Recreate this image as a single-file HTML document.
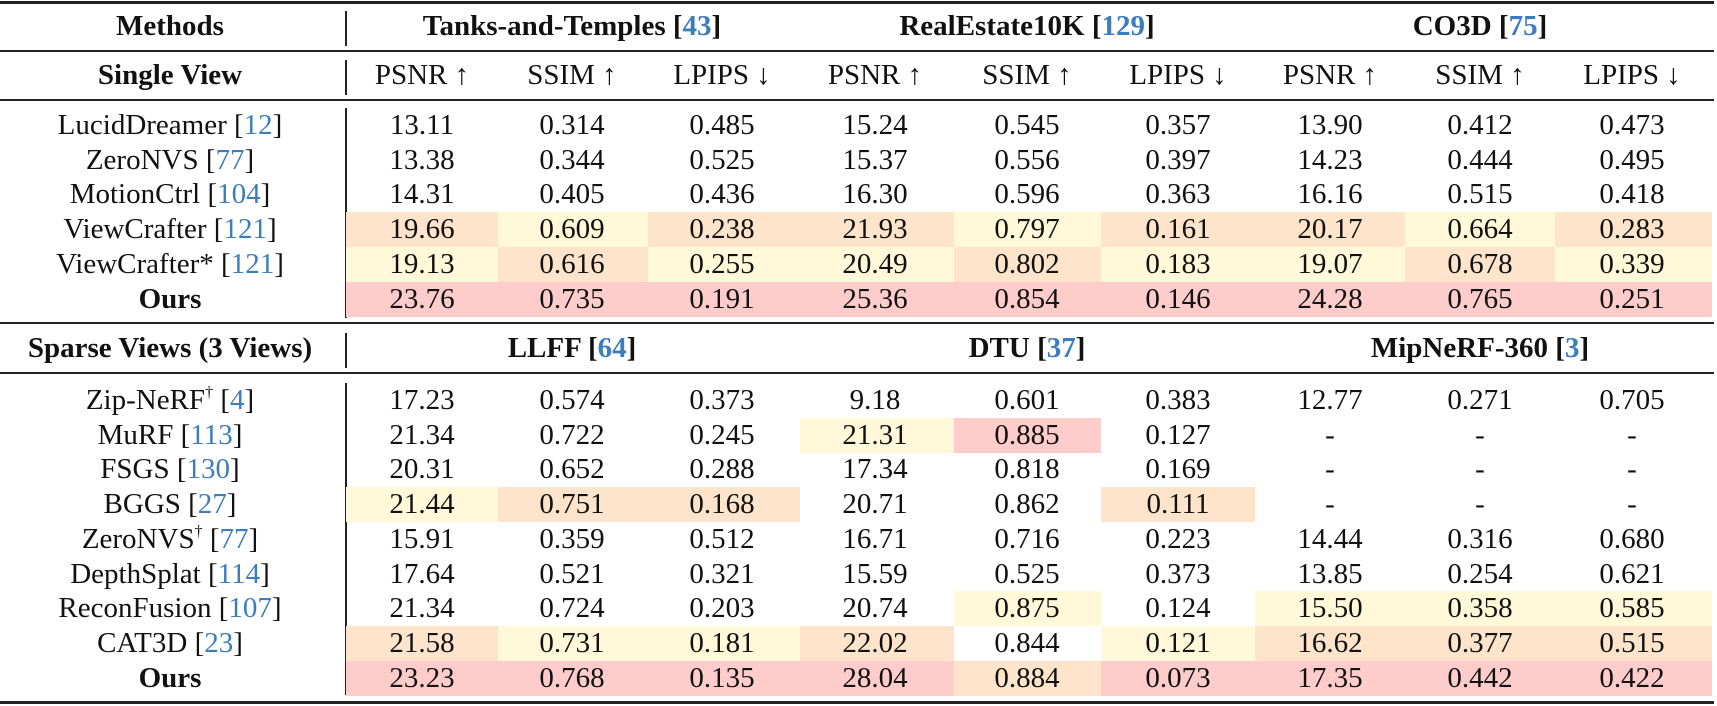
<!DOCTYPE html>
<html><head><meta charset="utf-8">
<style>
html,body{margin:0;padding:0;background:#fff;}
#t{position:relative;width:1717px;height:706px;overflow:hidden;font-family:"Liberation Serif","DejaVu Serif",serif;font-size:29px;color:#111;}
.r{position:absolute;left:0;width:1714px;background:#222;}
.v{position:absolute;left:345px;width:1.5px;background:#222;}
.c{position:absolute;height:35px;line-height:35px;text-align:center;white-space:nowrap;}
.b{font-weight:bold;}
.l{color:#3d7dbd;}
.bg{position:absolute;height:35px;}
.P{background:#ffcccc;}
.O{background:#ffe4cc;}
.Y{background:#fff8d9;}
sup{font-size:16px;line-height:0;vertical-align:12px;}
</style></head><body>
<div id="t">
<div class="r" style="top:1px;height:2.5px"></div>
<div class="r" style="top:50px;height:2px"></div>
<div class="r" style="top:99px;height:2px"></div>
<div class="r" style="top:322px;height:2px"></div>
<div class="r" style="top:372px;height:2px"></div>
<div class="r" style="top:701px;height:2.5px"></div>
<div class="v" style="top:11px;height:35px"></div>
<div class="v" style="top:60px;height:35px"></div>
<div class="v" style="top:108px;height:210px"></div>
<div class="v" style="top:333px;height:35px"></div>
<div class="v" style="top:383px;height:312px"></div>
</div>
<script>
var X=[346,498,648,800,954,1101,1255,1405,1555,1712];
var C=[422,572,722,875,1027,1178,1330,1480,1632];
var tb=document.getElementById('t');
function cell(x,y,html,cls){var d=document.createElement('div');d.className='c '+(cls||'');d.style.left=(x-200)+'px';d.style.width='400px';d.style.top=y+'px';d.innerHTML=html;tb.appendChild(d);}
function bg(i,y,cls){var d=document.createElement('div');d.className='bg '+cls;d.style.left=X[i]+'px';d.style.width=(X[i+1]-X[i])+'px';d.style.top=y+'px';tb.appendChild(d);}
function L(n){return '[<span class="l">'+n+'</span>]';}
cell(170,9,'Methods','b');
cell(572,9,'Tanks-and-Temples '+L(43),'b');
cell(1027,9,'RealEstate10K '+L(129),'b');
cell(1480,9,'CO3D '+L(75),'b');
cell(170,58,'Single View','b');
var H=['PSNR ↑','SSIM ↑','LPIPS ↓'];
for(var i=0;i<9;i++)cell(C[i],58,H[i%3]);
var topData=[
['LucidDreamer '+L(12),['13.11','0.314','0.485','15.24','0.545','0.357','13.90','0.412','0.473'],'.........'],
['ZeroNVS '+L(77),['13.38','0.344','0.525','15.37','0.556','0.397','14.23','0.444','0.495'],'.........'],
['MotionCtrl '+L(104),['14.31','0.405','0.436','16.30','0.596','0.363','16.16','0.515','0.418'],'.........'],
['ViewCrafter '+L(121),['19.66','0.609','0.238','21.93','0.797','0.161','20.17','0.664','0.283'],'OYOOYOOYO'],
['ViewCrafter* '+L(121),['19.13','0.616','0.255','20.49','0.802','0.183','19.07','0.678','0.339'],'YOYYOYYOY'],
['<b>Ours</b>',['23.76','0.735','0.191','25.36','0.854','0.146','24.28','0.765','0.251'],'PPPPPPPPP']
];
function rows(data,y0){
 for(var r=0;r<data.length;r++){
  var y=y0+r*34.7;
  for(var i=0;i<9;i++){var k=data[r][2][i];if(k!='.')bg(i,y,k);}
 }
 for(var r=0;r<data.length;r++){
  var y=y0+r*34.7;
  cell(170,y,data[r][0]);
  for(var i=0;i<9;i++)cell(C[i],y,data[r][1][i]);
 }
}
rows(topData,108);
cell(170,331,'Sparse Views (3 Views)','b');
cell(572,331,'LLFF '+L(64),'b');
cell(1027,331,'DTU '+L(37),'b');
cell(1480,331,'MipNeRF-360 '+L(3),'b');
var botData=[
['Zip-NeRF<sup>†</sup> '+L(4),['17.23','0.574','0.373','9.18','0.601','0.383','12.77','0.271','0.705'],'.........'],
['MuRF '+L(113),['21.34','0.722','0.245','21.31','0.885','0.127','-','-','-'],'...YP....'],
['FSGS '+L(130),['20.31','0.652','0.288','17.34','0.818','0.169','-','-','-'],'.........'],
['BGGS '+L(27),['21.44','0.751','0.168','20.71','0.862','0.111','-','-','-'],'YOO..O...'],
['ZeroNVS<sup>†</sup> '+L(77),['15.91','0.359','0.512','16.71','0.716','0.223','14.44','0.316','0.680'],'.........'],
['DepthSplat '+L(114),['17.64','0.521','0.321','15.59','0.525','0.373','13.85','0.254','0.621'],'.........'],
['ReconFusion '+L(107),['21.34','0.724','0.203','20.74','0.875','0.124','15.50','0.358','0.585'],'....Y.YYY'],
['CAT3D '+L(23),['21.58','0.731','0.181','22.02','0.844','0.121','16.62','0.377','0.515'],'OYYO.YOOO'],
['<b>Ours</b>',['23.23','0.768','0.135','28.04','0.884','0.073','17.35','0.442','0.422'],'PPPPOPPPP']
];
rows(botData,383);
</script>
</body></html>
